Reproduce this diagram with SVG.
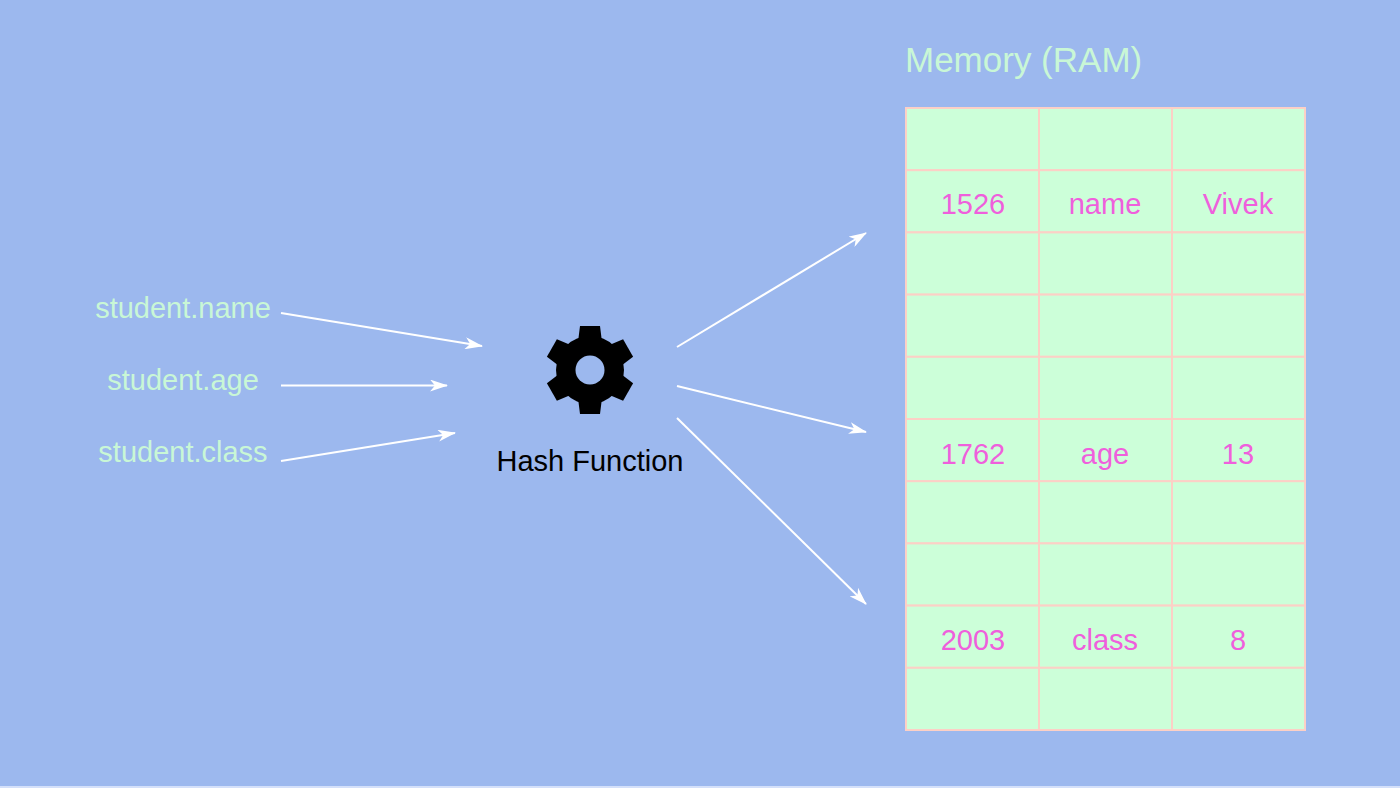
<svg xmlns="http://www.w3.org/2000/svg" width="1400" height="788" viewBox="0 0 1400 788">
<defs>
<marker id="ah" viewBox="0 0 18 12" refX="17" refY="6" markerWidth="18" markerHeight="12" markerUnits="userSpaceOnUse" orient="auto">
<path d="M0,0 L18,6 L0,12 L5,6 Z" fill="#ffffff"/>
</marker>
<style>
.lbl{font-family:"Liberation Sans",Arial,sans-serif;font-size:29px;fill:#c9f7d6;text-anchor:middle}
.cell{fill:#ccffd9;stroke:#fcd0c6;stroke-width:2}
.val{font-family:"Liberation Sans",Arial,sans-serif;font-size:29px;fill:#ef5fdc;text-anchor:middle}
.conn{stroke:#ffffff;stroke-width:2;fill:none;marker-end:url(#ah)}
</style>
</defs>
<rect x="0" y="0" width="1400" height="788" fill="#9cb8ee"/>
<rect x="0" y="786" width="1400" height="2" fill="#d4e0fa"/>

<g id="input-name"><text class="lbl" x="183" y="318">student.name</text></g>
<g id="input-age"><text class="lbl" x="183" y="390">student.age</text></g>
<g id="input-class"><text class="lbl" x="183" y="462">student.class</text></g>

<g id="hash-function">
<g transform="translate(590,370)" fill="#000000">
<circle r="34"/>
<path id="tooth" d="M-10,-44 L10,-44 L12,-28 L-12,-28 Z"/>
<path d="M-10,-44 L10,-44 L12,-28 L-12,-28 Z" transform="rotate(60)"/>
<path d="M-10,-44 L10,-44 L12,-28 L-12,-28 Z" transform="rotate(120)"/>
<path d="M-10,-44 L10,-44 L12,-28 L-12,-28 Z" transform="rotate(180)"/>
<path d="M-10,-44 L10,-44 L12,-28 L-12,-28 Z" transform="rotate(240)"/>
<path d="M-10,-44 L10,-44 L12,-28 L-12,-28 Z" transform="rotate(300)"/>
<circle r="14.5" fill="#9cb8ee"/>
</g>
<text x="590" y="471" font-family="'Liberation Sans',Arial,sans-serif" font-size="29" fill="#000000" text-anchor="middle">Hash Function</text>
</g>

<g id="memory">
<text x="905" y="72" font-family="'Liberation Sans',Arial,sans-serif" font-size="35" fill="#c9f7d6">Memory (RAM)</text>
<g id="table">
<rect class="cell" x="906" y="108" width="133" height="62.2"/><rect class="cell" x="1039" y="108" width="133" height="62.2"/><rect class="cell" x="1172" y="108" width="133" height="62.2"/>
<rect class="cell" x="906" y="170.2" width="133" height="62.2"/><rect class="cell" x="1039" y="170.2" width="133" height="62.2"/><rect class="cell" x="1172" y="170.2" width="133" height="62.2"/>
<rect class="cell" x="906" y="232.4" width="133" height="62.2"/><rect class="cell" x="1039" y="232.4" width="133" height="62.2"/><rect class="cell" x="1172" y="232.4" width="133" height="62.2"/>
<rect class="cell" x="906" y="294.6" width="133" height="62.2"/><rect class="cell" x="1039" y="294.6" width="133" height="62.2"/><rect class="cell" x="1172" y="294.6" width="133" height="62.2"/>
<rect class="cell" x="906" y="356.8" width="133" height="62.2"/><rect class="cell" x="1039" y="356.8" width="133" height="62.2"/><rect class="cell" x="1172" y="356.8" width="133" height="62.2"/>
<rect class="cell" x="906" y="419" width="133" height="62.2"/><rect class="cell" x="1039" y="419" width="133" height="62.2"/><rect class="cell" x="1172" y="419" width="133" height="62.2"/>
<rect class="cell" x="906" y="481.2" width="133" height="62.2"/><rect class="cell" x="1039" y="481.2" width="133" height="62.2"/><rect class="cell" x="1172" y="481.2" width="133" height="62.2"/>
<rect class="cell" x="906" y="543.4" width="133" height="62.2"/><rect class="cell" x="1039" y="543.4" width="133" height="62.2"/><rect class="cell" x="1172" y="543.4" width="133" height="62.2"/>
<rect class="cell" x="906" y="605.6" width="133" height="62.2"/><rect class="cell" x="1039" y="605.6" width="133" height="62.2"/><rect class="cell" x="1172" y="605.6" width="133" height="62.2"/>
<rect class="cell" x="906" y="667.8" width="133" height="62.2"/><rect class="cell" x="1039" y="667.8" width="133" height="62.2"/><rect class="cell" x="1172" y="667.8" width="133" height="62.2"/>
</g>
<text class="val" x="973" y="214">1526</text><text class="val" x="1105" y="214">name</text><text class="val" x="1238" y="214">Vivek</text>
<text class="val" x="973" y="464">1762</text><text class="val" x="1105" y="464">age</text><text class="val" x="1238" y="464">13</text>
<text class="val" x="973" y="650">2003</text><text class="val" x="1105" y="650">class</text><text class="val" x="1238" y="650">8</text>
</g>

<g id="connectors">
<line class="conn" x1="281" y1="313" x2="482" y2="346"/>
<line class="conn" x1="281" y1="385.5" x2="447" y2="385.5"/>
<line class="conn" x1="281" y1="461" x2="455" y2="433"/>
<line class="conn" x1="677" y1="347" x2="866" y2="233"/>
<line class="conn" x1="677" y1="386" x2="866" y2="432"/>
<line class="conn" x1="677" y1="418" x2="866" y2="604"/>
</g>
</svg>
